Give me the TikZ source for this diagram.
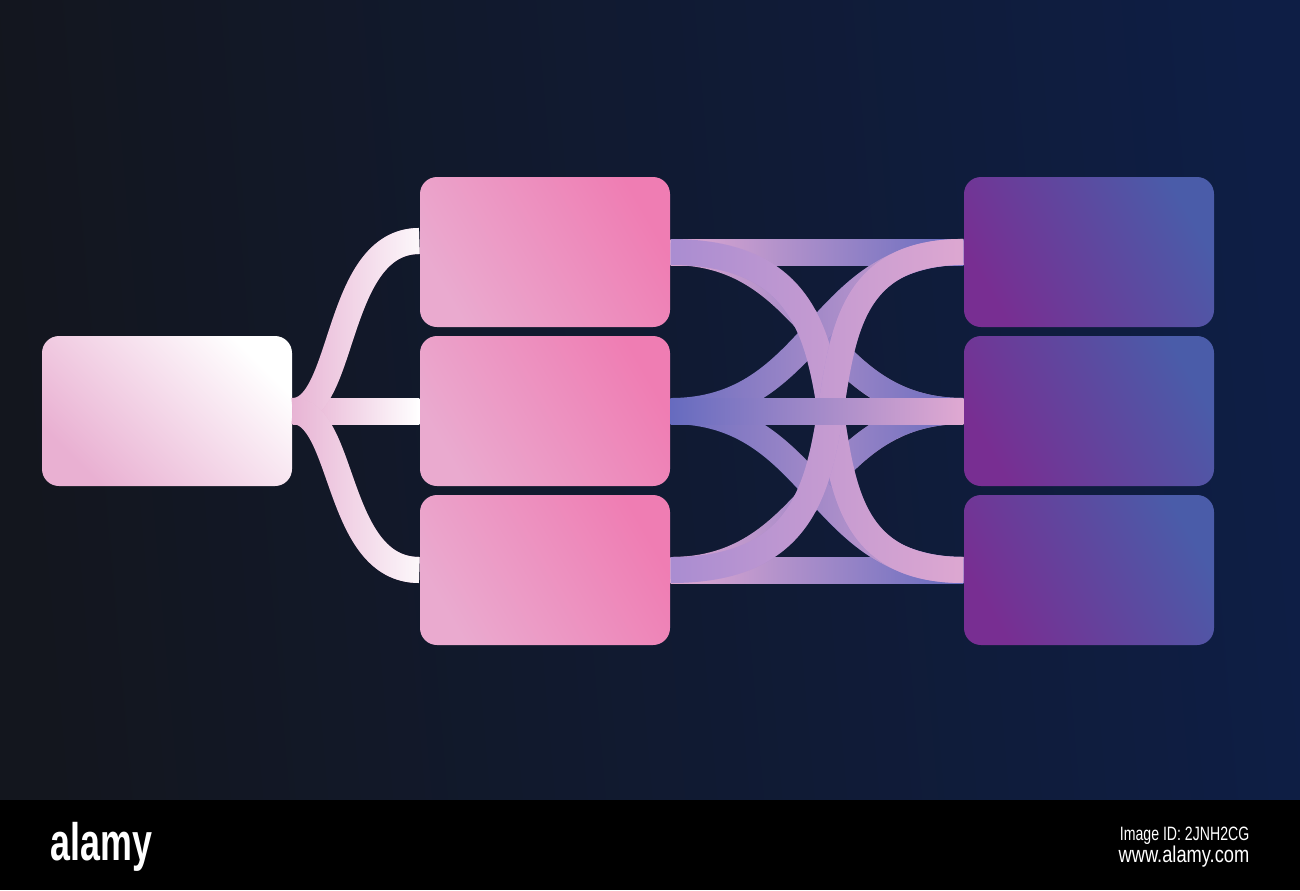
\documentclass[tikz,border=0pt]{standalone}
\usepackage{fontspec}
\setmainfont{Liberation Sans}
\usetikzlibrary{fadings}

\definecolor{bgleft}{HTML}{13161E}
\definecolor{bgright}{HTML}{0E1E45}
\definecolor{srcpink}{HTML}{E9B0D2}
\definecolor{midpink}{HTML}{EAAACF}
\definecolor{hotpink}{HTML}{EF7DB3}
\definecolor{plum}{HTML}{782E92}
\definecolor{slate}{HTML}{4A5CA9}
\definecolor{treepink}{HTML}{E6AED1}
\definecolor{pinkband}{HTML}{E0A9D2}
\definecolor{blueband}{HTML}{666BBF}
\definecolor{lavband}{HTML}{A88CD1}

\tikzfading[name=fade in east, left color=transparent!100, right color=transparent!0]

% band that runs from colour #1 (left) to colour #2 (right)
\newcommand{\gradband}[3]{%
  \draw[band,draw=#1] #3;
  \draw[band,draw=#2,path fading=fade in east] #3;}

\begin{document}
\begin{tikzpicture}[x=0.1mm,y=-0.1mm,
  box/.style={rounded corners=1.7mm, minimum width=25mm, minimum height=15mm, inner sep=0pt},
  band/.style={line width=2.6mm},
  ]
  \useasboundingbox (0,0) rectangle (1300,890);
  \shade[left color=bgleft,right color=bgright,shading angle=95] (0,0) rectangle (1300,800);
  \fill[black] (0,800) rectangle (1300,890);

  % boxes
  \node[box,left color=srcpink,right color=white,shading angle=135] (src) at (167,411) {};
  \foreach \y/\n in {252/1,411/2,570/3}{
    \node[box,left color=midpink,right color=hotpink,shading angle=120] (m\n) at (545,\y) {};
    \node[box,left color=plum,right color=slate,shading angle=120] (r\n) at (1089,\y) {};
  }

  % left tree
  \shade[left color=treepink,right color=white] ([yshift=1.3mm]src.east) rectangle ([yshift=-1.3mm]m2.west);
  \gradband{treepink}{white}{(src.east) .. controls +(53,0) and +(-85,0) .. ([yshift=1.1mm]m1.west)}
  \gradband{treepink}{white}{(src.east) .. controls +(53,0) and +(-85,0) .. (m3.west)}

  % woven bands
  \shade[left color=pinkband,right color=blueband] ([yshift=1.3mm]m1.east) rectangle ([yshift=-1.3mm]r1.west);
  \shade[left color=pinkband,right color=blueband] ([yshift=1.3mm]m3.east) rectangle ([yshift=-1.3mm]r3.west);
  \gradband{pinkband}{blueband}{(m1.east) .. controls +(147,0) and +(-147,0) .. (r2.west)}
  \gradband{pinkband}{blueband}{(m3.east) .. controls +(147,0) and +(-147,0) .. (r2.west)}
  \gradband{blueband}{pinkband}{(m2.east) .. controls +(147,0) and +(-147,0) .. (r1.west)}
  \gradband{blueband}{pinkband}{(m2.east) .. controls +(147,0) and +(-147,0) .. (r3.west)}
  \gradband{lavband}{pinkband}{(m1.east) .. controls +(260,0) and +(-224,0) .. (r3.west)}
  \gradband{lavband}{pinkband}{(m3.east) .. controls +(260,0) and +(-224,0) .. (r1.west)}
  \shade[left color=blueband,right color=pinkband] ([yshift=1.3mm]m2.east) rectangle ([yshift=-1.3mm]r2.west);

  % footer
  \node[anchor=base west,inner sep=0pt,text=white,font=\fontsize{15}{15}\selectfont\bfseries] (logo) at (50,860) {\scalebox{.68}[1]{alamy}};
  \node[anchor=base east,inner sep=0pt,text=white,font=\fontsize{5.5}{6}\selectfont] (imgid) at (1250,840) {\scalebox{.73}[1]{Image ID: 2JNH2CG}};
  \node[anchor=base east,inner sep=0pt,text=white,font=\fontsize{6.5}{7}\selectfont] (site) at (1250,862) {\scalebox{.8}[1]{www.alamy.com}};
\end{tikzpicture}
\end{document}
